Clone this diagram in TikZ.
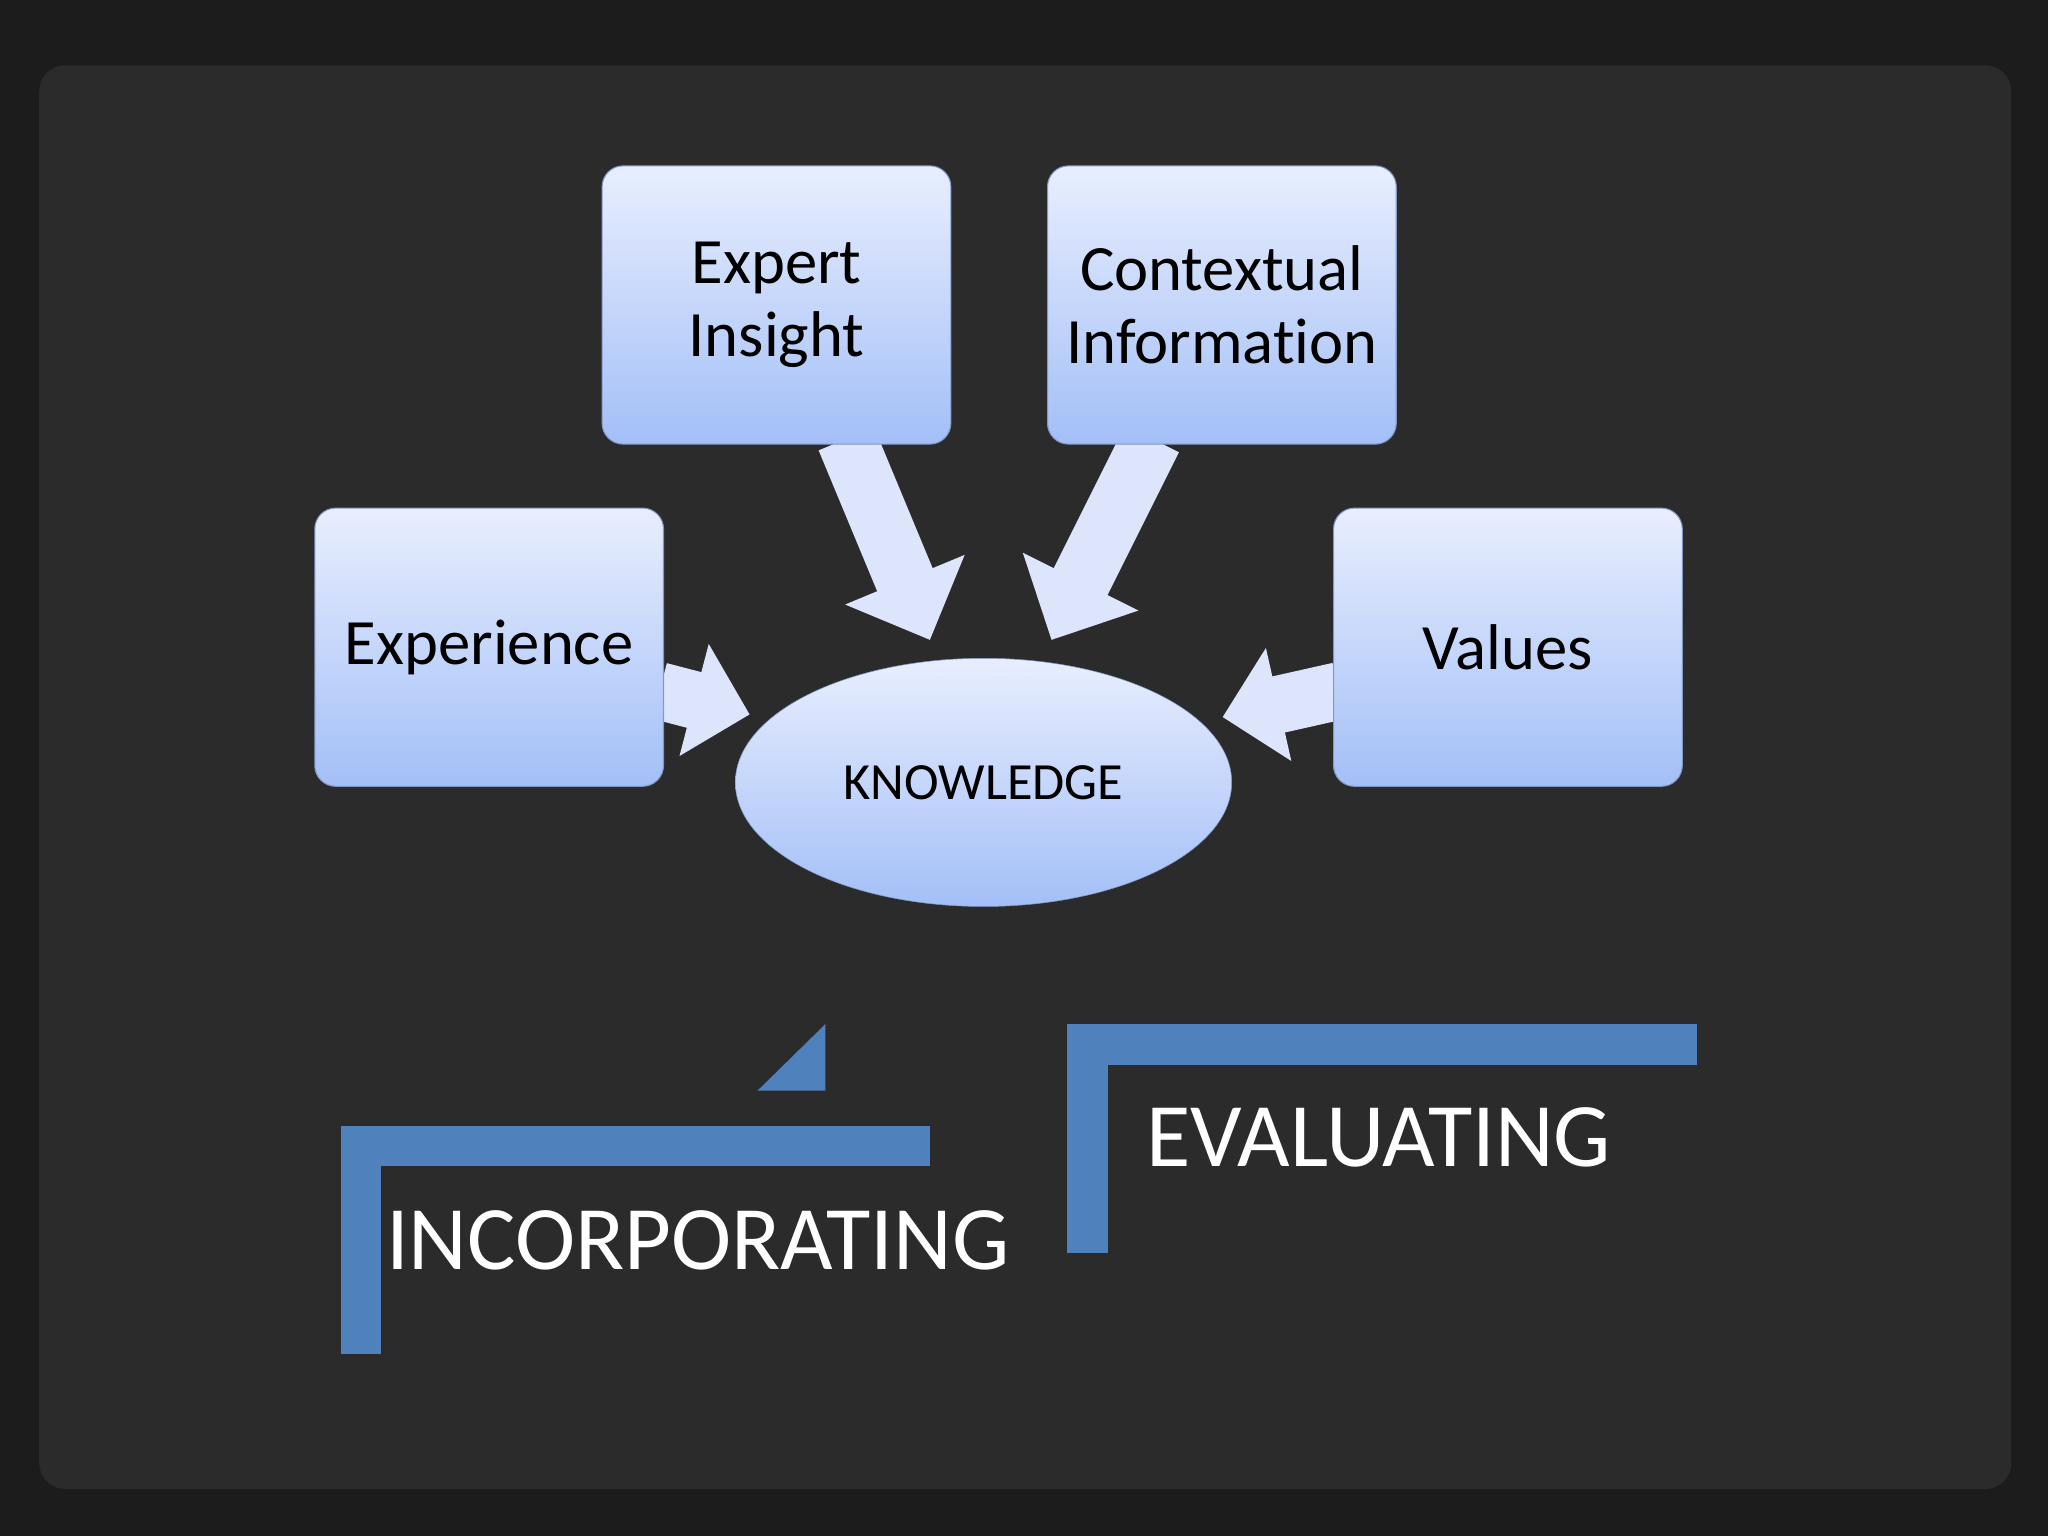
\documentclass[tikz,border=0pt]{standalone}
\usepackage{fontspec}
\setmainfont{Carlito}[Ligatures=NoCommon]
\usetikzlibrary{arrows.meta}
\definecolor{bg}{HTML}{2B2B2B}
\definecolor{bgdark}{HTML}{1C1C1C}
\definecolor{boxtop}{HTML}{E8EEFE}
\definecolor{boxbot}{HTML}{A3BFF7}
\definecolor{arr}{HTML}{DCE5FB}
\definecolor{brk}{HTML}{4F81BD}
\tikzset{
  sbox/.style={rounded corners=16pt, top color=boxtop, bottom color=boxbot, draw=boxbot!80!black, line width=0.8pt},
  blk/.style={draw=arr, line width=46pt, -{Triangle[width=96pt,length=50pt]}},
  blks/.style={draw=arr, line width=44pt, -{Triangle[width=86pt,length=44pt]}},
  boxtxt/.style={font=\fontsize{49.5}{56}\selectfont, align=center, text=black},
}
\begin{document}
\begin{tikzpicture}[x=1pt,y=-1pt]
\fill[bgdark] (0,0) rectangle (1568,1176);
\fill[bg, rounded corners=20pt] (30,50) rectangle (1540,1140);
\useasboundingbox (0,0) rectangle (1568,1176);
% arrows
\coordinate (a1s) at (648,336); \coordinate (a1e) at (712,490);
\coordinate (a2s) at (882,336); \coordinate (a2e) at (805,490);
\coordinate (a3s) at (505,529); \coordinate (a3e) at (574,547);
\coordinate (a4s) at (1025,529); \coordinate (a4e) at (936,549);
\draw[blk] (a1s) -- (a1e);
\draw[blk] (a2s) -- (a2e);
\draw[blks] (a3s) -- (a3e);
\draw[blks] (a4s) -- (a4e);
% boxes
\path[sbox] (461,127) rectangle (728,340);
\node[boxtxt] (ei) at (594.5,233.5) {Expert\\Insight};
\path[sbox] (802,127) rectangle (1069,340);
\node[boxtxt] (ci) at (935.5,233.5) {Contextual\\Information};
\path[sbox] (241,389) rectangle (508,602);
\node[boxtxt] (ex) at (374.5,495.5) {Experience};
\path[sbox] (1021,389) rectangle (1288,602);
\node[boxtxt] (va) at (1154.5,495.5) {Values};
% ellipse
\path[top color=boxtop, bottom color=boxbot, draw=boxbot!80!black] (753,599) ellipse [x radius=190, y radius=95];
\node[font=\fontsize{40}{46}\selectfont] (kn) at (753,599) {KNOWLEDGE};
% brackets
\fill[brk] (261,862) rectangle (712,893);
\fill[brk] (261,862) rectangle (292,1037);
\fill[brk] (580,835) -- (632,835) -- (632,784) -- cycle;
\fill[brk] (817,784) rectangle (1299,815);
\fill[brk] (817,784) rectangle (848,959);
\node[anchor=west, text=white, font=\fontsize{69.5}{80}\selectfont] (inc) at (292,950) {INCORPORATING};
\node[anchor=west, text=white, font=\fontsize{69.5}{80}\selectfont] (eva) at (874,871) {EVALUATING};
\end{tikzpicture}
\end{document}
